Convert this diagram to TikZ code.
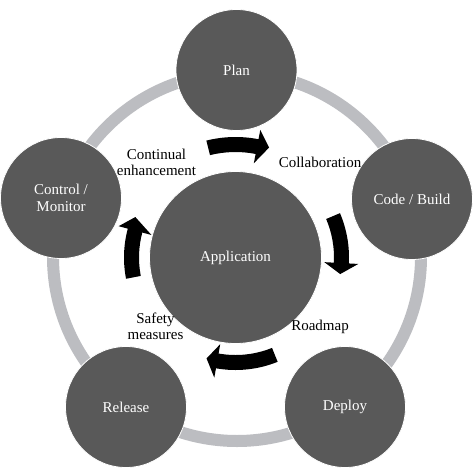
\documentclass[tikz,border=0pt]{standalone}
\usepackage{fontspec}
\setmainfont{Liberation Serif}
\usetikzlibrary{calc}
\definecolor{nodegray}{RGB}{89,89,89}
\definecolor{ringgray}{RGB}{188,189,193}
\newcommand\cyclearrow[5]{% start angle, end angle, tip angle, radius, tip radius offset
  \fill[black] ($(app.center)+(#1:#4+7.5)$) arc[start angle=#1, end angle=#2, radius=#4+7.5]
    -- ($(app.center)+(#2:#4+17)$) -- ($(app.center)+(#3:#4+#5)$)
    -- ($(app.center)+(#2:#4-17)$) -- ($(app.center)+(#2:#4-7.5)$)
    arc[start angle=#2, end angle=#1, radius=#4-7.5] -- cycle;}
\begin{document}
\begin{tikzpicture}[x=1pt,y=1pt,
  stage/.style={circle, fill=nodegray, draw=white, line width=0.8pt, minimum size=121pt,
    inner sep=0pt, text=white, align=center, font=\fontsize{15}{16.5}\selectfont},
  lbl/.style={align=center, font=\fontsize{15}{16.5}\selectfont, text=black, inner sep=0pt}]
\useasboundingbox (0,0) rectangle (474,-474);
\fill[white] (0,0) rectangle (474,-474);
\coordinate (rc) at (237,-257);
\draw[ringgray, line width=12pt] (rc) circle[radius=184];
\node[stage] (plan) at (236.5,-70) {Plan};
\node[stage] (code) at (412,-199) {Code / Build};
\node[stage] (deploy) at (345,-407) {Deploy};
\node[stage] (release) at (126,-407) {Release};
\node[stage] (control) at (61,-198) {Control /\\Monitor};
\node[stage, minimum size=172pt] (app) at (235.5,-257.5) {Application};
\cyclearrow{104}{79}{73}{113}{2}
\cyclearrow{23}{-3}{-9}{106}{0}
\cyclearrow{-68}{-100}{-106}{105}{0}
\cyclearrow{191}{165}{158}{104}{4}
\node[lbl] (cont) at (156.5,-162.5) {Continual\\enhancement};
\node[lbl] (collab) at (320,-162) {Collaboration};
\node[lbl] (road) at (320,-327) {Roadmap};
\node[lbl] (safety) at (155.5,-326.5) {Safety\\measures};
\end{tikzpicture}
\end{document}
